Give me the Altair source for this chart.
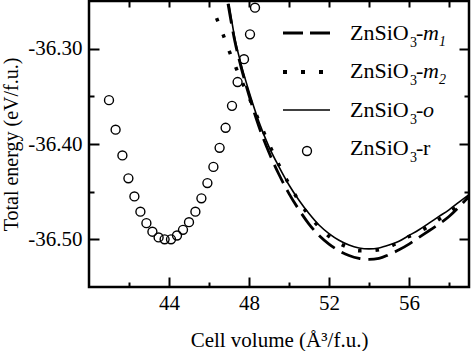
import altair as alt
import pandas as pd

F = "Liberation Serif"

# ZnSiO3-r (open circles)
V_r = [41.0, 41.33, 41.67, 41.97, 42.27, 42.57, 42.87, 43.17, 43.48, 43.78, 44.1, 44.4, 44.7,
       45.0, 45.32, 45.62, 45.92, 46.22, 46.53, 46.83, 47.15, 47.43, 47.75, 48.05, 48.3]
E_r = [-36.354, -36.385, -36.412, -36.436, -36.455, -36.471, -36.483, -36.492, -36.498, -36.500,
       -36.500, -36.496, -36.490, -36.482, -36.471, -36.457, -36.441, -36.424, -36.404, -36.383,
       -36.360, -36.335, -36.311, -36.285, -36.257]

# ZnSiO3-o (solid)
V_o = [47.0, 47.3, 47.6, 48.0, 48.5, 49.0, 49.5, 50.0, 50.5, 51.0, 51.5, 52.0, 52.5, 53.0, 53.5,
       54.0, 54.5, 55.0, 55.5, 56.0, 56.5, 57.0, 57.5, 58.0, 58.5, 59.0]
E_o = [-36.253, -36.290, -36.316, -36.345, -36.377, -36.403, -36.424, -36.443, -36.459, -36.473,
       -36.485, -36.494, -36.501, -36.506, -36.509, -36.510, -36.509, -36.506, -36.502, -36.496,
       -36.490, -36.483, -36.476, -36.469, -36.461, -36.453]

# ZnSiO3-m1 (dashed)
V_m1 = [46.95, 47.3, 47.6, 48.0, 48.5, 49.0, 49.5, 50.0, 50.5, 51.0, 51.5, 52.0, 52.5, 53.0, 53.5,
        54.0, 54.5, 55.0, 55.5, 56.0, 56.5, 57.0, 57.5, 58.0, 58.5, 59.0]
E_m1 = [-36.253, -36.293, -36.319, -36.349, -36.382, -36.409, -36.432, -36.452, -36.469, -36.484,
        -36.496, -36.505, -36.512, -36.517, -36.520, -36.521, -36.520, -36.516, -36.511, -36.505,
        -36.498, -36.491, -36.484, -36.476, -36.466, -36.455]

# ZnSiO3-m2 (dotted)
V_m2 = [46.38, 46.7, 47.0, 47.35, 47.7, 48.0, 48.5, 49.0, 49.5, 50.0, 50.5, 51.0, 51.5, 52.0, 52.5,
        53.0, 53.5, 54.0, 54.5, 55.0, 55.5, 56.0, 56.5, 57.0, 57.5, 58.0, 58.5, 59.0]
E_m2 = [-36.268, -36.285, -36.302, -36.320, -36.337, -36.351, -36.376, -36.400, -36.422, -36.442,
        -36.460, -36.475, -36.487, -36.497, -36.504, -36.509, -36.512, -36.512, -36.511, -36.508,
        -36.503, -36.497, -36.492, -36.486, -36.479, -36.472, -36.464, -36.455]

x_major = [44, 48, 52, 56]
x_minor = [42, 46, 50, 54, 58]
y_major = [-36.30, -36.40, -36.50]
y_minor = [-36.35, -36.45]

leg_base = ["ZnSiO", "ZnSiO", "ZnSiO", "ZnSiO"]
leg_sub = ["3", "3", "3", "3"]
leg_phase = ["m", "m", "o", "r"]
leg_phase_sub = ["1", "2", "", ""]

W, H = 380, 286
xs = alt.Scale(domain=[40, 59], nice=False, zero=False)
ys = alt.Scale(domain=[-36.55, -36.25], nice=False, zero=False)

ax_x = alt.Axis(orient="bottom", values=x_major, format="d", ticks=False, domain=False, grid=False,
                labelFont=F, labelFontSize=21, labelColor="black", labelPadding=5,
                title="Cell volume (Å³/f.u.)", titleFont=F, titleFontSize=21,
                titleFontWeight="normal", titleColor="black", titleY=59,
                titleBaseline="alphabetic")
ax_y = alt.Axis(orient="left", values=y_major, labelExpr="'-' + format(abs(datum.value), '.2f')",
                ticks=False, domain=False, grid=False,
                labelFont=F, labelFontSize=21, labelColor="black", labelPadding=7,
                title="Total energy (eV/f.u.)", titleFont=F, titleFontSize=20,
                titleFontWeight="normal", titleColor="black", titleX=-72, titleY=143,
                titleBaseline="alphabetic", titleAlign="center", titleAngle=270)


def tick_axis(orient, offset, values, size):
    return alt.Axis(orient=orient, offset=offset, values=values, tickSize=size, tickWidth=2,
                    tickColor="black", ticks=True, labels=False, domain=False, grid=False, title=None)


Xn = lambda f: alt.X(f"{f}:Q", scale=xs, axis=None)
Yn = lambda f: alt.Y(f"{f}:Q", scale=ys, axis=None)

df_r = pd.DataFrame({"V": V_r, "E": E_r})
df_o = pd.DataFrame({"V": V_o, "E": E_o})
df_m1 = pd.DataFrame({"V": V_m1, "E": E_m1})
df_m2 = pd.DataFrame({"V": V_m2, "E": E_m2})

line_o = alt.Chart(df_o).mark_line(color="black", strokeWidth=1.6, clip=True,
                                   interpolate="monotone").encode(x=Xn("V"), y=Yn("E"), order="V:Q")
line_m1 = alt.Chart(df_m1).mark_line(color="black", strokeWidth=2.8, strokeDash=[20, 8], clip=True,
                                     interpolate="monotone").encode(x=Xn("V"), y=Yn("E"), order="V:Q")
line_m2 = alt.Chart(df_m2).mark_line(color="black", strokeWidth=3.5, strokeDash=[3.5, 14], clip=True,
                                     interpolate="monotone").encode(x=Xn("V"), y=Yn("E"), order="V:Q")
pts = alt.Chart(df_r).mark_point(shape="circle", filled=False, color="black", size=80, opacity=1,
                                 strokeWidth=1.4, clip=True).encode(
    x=alt.X("V:Q", scale=xs, axis=ax_x), y=alt.Y("E:Q", scale=ys, axis=ax_y))

# inward ticks on all four sides, drawn by extra axes pushed inside the frame
axis_layers = []
for ax in [tick_axis("top", -H, x_major, 10), tick_axis("top", -H, x_minor, 5),
           tick_axis("bottom", -H, x_major + x_minor, 6)]:
    axis_layers.append(alt.Chart(df_r).mark_point(opacity=0).encode(
        x=alt.X("V:Q", scale=xs, axis=ax), y=Yn("E")))
for ax in [tick_axis("right", -W, y_major, 10), tick_axis("right", -W, y_minor, 5),
           tick_axis("left", -W, y_major, 10), tick_axis("left", -W, y_minor, 5)]:
    axis_layers.append(alt.Chart(df_r).mark_point(opacity=0).encode(
        x=Xn("V"), y=alt.Y("E:Q", scale=ys, axis=ax)))

# legend
ty = [39, 77, 116, 154]
sym_y = [32, 71, 109, 150]
tx = dict(align="left", baseline="alphabetic", font=F, color="black")
leg = []
for i in range(4):
    d = pd.DataFrame({"base": [leg_base[i]], "sub": [leg_sub[i]], "ph": [leg_phase[i]],
                      "phs": [leg_phase_sub[i]]})
    yv = alt.value(ty[i])
    leg.append(alt.Chart(d).mark_text(fontSize=22, **tx).encode(x=alt.value(261), y=yv, text="base:N"))
    leg.append(alt.Chart(d).mark_text(fontSize=14, dy=7, **tx).encode(x=alt.value(321), y=yv, text="sub:N"))
    leg.append(alt.Chart(d).mark_text(fontSize=22, **tx).encode(x=alt.value(327), y=yv, text=alt.value("-")))
    leg.append(alt.Chart(d).mark_text(fontSize=22, fontStyle=("normal" if leg_phase[i] == "r" else "italic"), **tx)
               .encode(x=alt.value(334), y=yv, text="ph:N"))
    if leg_phase_sub[i]:
        leg.append(alt.Chart(d).mark_text(fontSize=14, dy=6, fontStyle="italic", **tx)
                   .encode(x=alt.value(350), y=yv, text="phs:N"))

sym = [
    alt.Chart(df_o.head(1)).mark_rule(color="black", strokeWidth=2.8, strokeDash=[20, 7])
        .encode(x=alt.value(194), x2=alt.value(241), y=alt.value(sym_y[0])),
    alt.Chart(df_o.head(1)).mark_rule(color="black", strokeWidth=4, strokeDash=[4, 14])
        .encode(x=alt.value(194), x2=alt.value(241), y=alt.value(sym_y[1])),
    alt.Chart(df_o.head(1)).mark_rule(color="black", strokeWidth=1.6)
        .encode(x=alt.value(194), x2=alt.value(241), y=alt.value(sym_y[2])),
    alt.Chart(df_o.head(1)).mark_point(shape="circle", filled=False, color="black", size=80, opacity=1,
                                       strokeWidth=1.4)
        .encode(x=alt.value(218), y=alt.value(sym_y[3])),
]

chart = alt.layer(line_m2, line_m1, line_o, pts, *axis_layers, *leg, *sym).resolve_axis(
    x="independent", y="independent"
).properties(
    width=W, height=H,
    background="white",
    autosize=alt.AutoSizeParams(type="none"),
    padding={"left": 89, "top": 1, "right": 5, "bottom": 64},
).configure_view(stroke="black", strokeWidth=2.5)

chart.save("out.html", embed_options={"renderer": "svg", "actions": False})
